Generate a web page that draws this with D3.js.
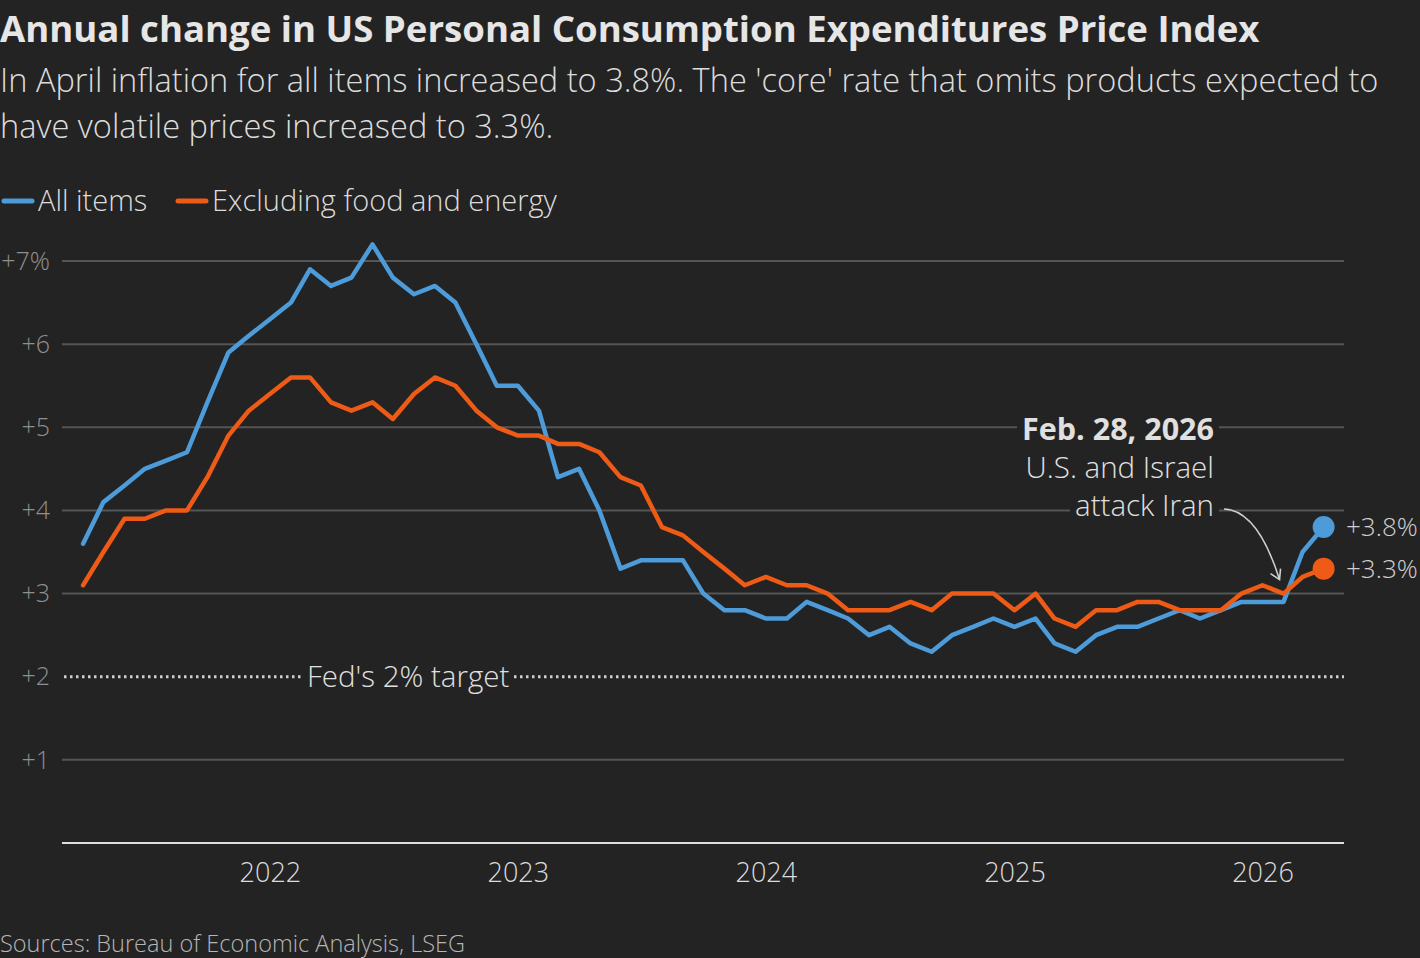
<!DOCTYPE html>
<html>
<head>
<meta charset="utf-8">
<script src="https://cdn.jsdelivr.net/npm/d3@7"></script>
<style>
	html, body { margin: 0; padding: 0; background: #232323; }
	svg { display: block; }
	text { font-family: "Open Sans", "Noto Sans", sans-serif; }
</style>
</head>
<body>
<div id="chart"></div>
<script>
// monthly readings, April 2021 to April 2026
const firstMonth = "2021-04";
const allItems = [
	3.6, 4.1, 4.3, 4.5, 4.6, 4.7, 5.3, 5.9, 6.1,
	6.3, 6.5, 6.9, 6.7, 6.8, 7.2, 6.8, 6.6, 6.7, 6.5, 6.0, 5.5,
	5.5, 5.2, 4.4, 4.5, 4.0, 3.3, 3.4, 3.4, 3.4, 3.0, 2.8, 2.8,
	2.7, 2.7, 2.9, 2.8, 2.7, 2.5, 2.6, 2.4, 2.3, 2.5, 2.6, 2.7,
	2.6, 2.7, 2.4, 2.3, 2.5, 2.6, 2.6, 2.7, 2.8, 2.7, 2.8, 2.9,
	2.9, 2.9, 3.5, 3.8
];
const core = [
	3.1, 3.5, 3.9, 3.9, 4.0, 4.0, 4.4, 4.9, 5.2,
	5.4, 5.6, 5.6, 5.3, 5.2, 5.3, 5.1, 5.4, 5.6, 5.5, 5.2, 5.0,
	4.9, 4.9, 4.8, 4.8, 4.7, 4.4, 4.3, 3.8, 3.7, 3.5, 3.3, 3.1,
	3.2, 3.1, 3.1, 3.0, 2.8, 2.8, 2.8, 2.9, 2.8, 3.0, 3.0, 3.0,
	2.8, 3.0, 2.7, 2.6, 2.8, 2.8, 2.9, 2.9, 2.8, 2.8, 2.8, 3.0,
	3.1, 3.0, 3.2, 3.3
];
const seriesNames = ["All items", "Excluding food and energy"];
const seriesColors = ["#4d9bd8", "#ee5b16"];
const yTicks = [1, 2, 3, 4, 5, 6, 7];
const xTickYears = [2022, 2023, 2024, 2025, 2026];
const targetRate = 2;

const width = 1420, height = 958;
const bg = "#232323";

const svg = d3.select("#chart").append("svg")
	.attr("width", width)
	.attr("height", height);

const parseMonth = d3.timeParse("%Y-%m");
const start = parseMonth(firstMonth);
const toPoints = values => values.map((v, i) => ({ date: d3.timeMonth.offset(start, i), value: v }));
const series = [toPoints(allItems), toPoints(core)];

const x = d3.scaleTime()
	.domain([new Date(2021, 2, 1), new Date(2026, 4, 1)])
	.range([62, 1344]);
const y = d3.scaleLinear()
	.domain([0, 7])
	.range([843, 261]);

// heading
svg.append("text")
	.attr("x", 0).attr("y", 42)
	.attr("font-size", 36.6).attr("font-weight", 700)
	.attr("fill", "#e6e6e6")
	.text("Annual change in US Personal Consumption Expenditures Price Index");

const subLines = [
	"In April inflation for all items increased to 3.8%. The 'core' rate that omits products expected to",
	"have volatile prices increased to 3.3%."
];
svg.append("g").selectAll("text")
	.data(subLines)
	.enter().append("text")
	.attr("x", 0).attr("y", (d, i) => 92 + i * 46)
	.attr("font-size", 32.6).attr("font-weight", 300)
	.attr("fill", "#dcdcdc")
	.text(d => d);

// legend
const legend = svg.append("g").attr("transform", "translate(0, 201)");
const legendX = [2, 176];
seriesNames.forEach((name, i) => {
	legend.append("line")
		.attr("x1", legendX[i] + 2).attr("x2", legendX[i] + 30)
		.attr("stroke", seriesColors[i]).attr("stroke-width", 5)
		.attr("stroke-linecap", "round");
	legend.append("text")
		.attr("x", legendX[i] + 36).attr("y", 10)
		.attr("font-size", 29).attr("font-weight", 300)
		.attr("fill", "#dcdcdc")
		.text(name);
});

// grid + y labels
const grid = svg.append("g");
grid.selectAll("line")
	.data(yTicks.filter(d => d !== targetRate))
	.enter().append("line")
	.attr("x1", 62).attr("x2", 1344)
	.attr("y1", d => y(d)).attr("y2", d => y(d))
	.attr("stroke", "#555").attr("stroke-width", 2);
svg.append("g").selectAll("text")
	.data(yTicks)
	.enter().append("text")
	.attr("x", 50)
	.attr("y", d => y(d))
	.attr("dy", "0.35em")
	.attr("text-anchor", "end")
	.attr("font-size", 25).attr("font-weight", 300)
	.attr("fill", "#8f8f8f")
	.text(d => "+" + d + (d === 7 ? "%" : ""));

// target dotted line
const targetG = svg.append("g");
targetG.append("line")
	.attr("x1", 64).attr("x2", 1344)
	.attr("y1", y(targetRate)).attr("y2", y(targetRate))
	.attr("stroke", "#cfcfcf").attr("stroke-width", 3)
	.attr("stroke-dasharray", "2.5 3.5");
const targetLabel = targetG.append("text")
	.attr("x", 307).attr("y", y(targetRate) + 10)
	.attr("font-size", 29.5).attr("font-weight", 300)
	.attr("fill", "#e0e0e0")
	.text("Fed's 2% target");
{
	const b = targetLabel.node().getBBox();
	targetG.insert("rect", "text")
		.attr("x", b.x - 3).attr("y", b.y)
		.attr("width", b.width + 6).attr("height", b.height)
		.attr("fill", bg);
}

// baseline
svg.append("line")
	.attr("x1", 62).attr("x2", 1344)
	.attr("y1", y(0)).attr("y2", y(0))
	.attr("stroke", "#dedede").attr("stroke-width", 2);

// x axis
const xAxis = svg.append("g")
	.attr("transform", `translate(0, ${y(0)})`)
	.call(d3.axisBottom(x)
		.tickValues(xTickYears.map(yr => new Date(yr, 0, 1)))
		.tickFormat(d3.timeFormat("%Y"))
		.tickSize(0)
		.tickPadding(20));
xAxis.select(".domain").remove();
xAxis.selectAll("text")
	.attr("font-size", 27).attr("font-weight", 300)
	.attr("font-family", "'Open Sans', 'Noto Sans', sans-serif")
	.attr("fill", "#dcdcdc");

// annotation
const annX = 1214;
const ann = svg.append("g")
	.attr("text-anchor", "end")
	.attr("fill", "#e0e0e0");
const annLines = [
	{ t: "Feb. 28, 2026", y: 440, w: 700, s: 30.5 },
	{ t: "U.S. and Israel", y: 478, w: 300, s: 29.5 },
	{ t: "attack Iran", y: 516, w: 300, s: 29.5 }
];
annLines.forEach(l => {
	const t = ann.append("text")
		.attr("x", annX).attr("y", l.y)
		.attr("font-size", l.s).attr("font-weight", l.w)
		.text(l.t);
	const b = t.node().getBBox();
	ann.insert("rect", "text")
		.attr("x", b.x - 5).attr("y", b.y + 2)
		.attr("width", b.width + 10).attr("height", b.height - 4)
		.attr("fill", bg);
});

const arrowEnd = [x(new Date(2026, 1, 1)) - 4, y(3) - 14];
svg.append("path")
	.attr("d", `M1224,509 Q${arrowEnd[0] - 22},510 ${arrowEnd[0]},${arrowEnd[1]}`)
	.attr("fill", "none").attr("stroke", "#d0d0d0").attr("stroke-width", 1.6);
svg.append("path")
	.attr("d", `M${arrowEnd[0] - 9},${arrowEnd[1] - 6} L${arrowEnd[0]},${arrowEnd[1]} L${arrowEnd[0] + 1},${arrowEnd[1] - 11}`)
	.attr("fill", "none").attr("stroke", "#d0d0d0").attr("stroke-width", 1.6);

// lines
const line = d3.line()
	.x(d => x(d.date))
	.y(d => y(d.value));
svg.append("g").selectAll("path")
	.data(series)
	.enter().append("path")
	.attr("d", line)
	.attr("fill", "none")
	.attr("stroke", (d, i) => seriesColors[i])
	.attr("stroke-width", 4.5)
	.attr("stroke-linejoin", "round")
	.attr("stroke-linecap", "round");

// end dots + labels
const lastPts = series.map(s => s[s.length - 1]);
svg.append("g").selectAll("circle")
	.data(lastPts)
	.enter().append("circle")
	.attr("cx", d => x(d.date)).attr("cy", d => y(d.value))
	.attr("r", 11)
	.attr("fill", (d, i) => seriesColors[i]);
svg.append("g").selectAll("text")
	.data(lastPts)
	.enter().append("text")
	.attr("x", 1346).attr("y", d => y(d.value))
	.attr("dy", "0.35em")
	.attr("font-size", 26).attr("font-weight", 300)
	.attr("fill", "#cfcfcf")
	.text(d => "+" + d3.format(".1f")(d.value) + "%");

// source
svg.append("text")
	.attr("x", 0).attr("y", 952)
	.attr("font-size", 23.5).attr("font-weight", 300)
	.attr("fill", "#b5b5b5")
	.text("Sources: Bureau of Economic Analysis, LSEG");
</script>
</body>
</html>
